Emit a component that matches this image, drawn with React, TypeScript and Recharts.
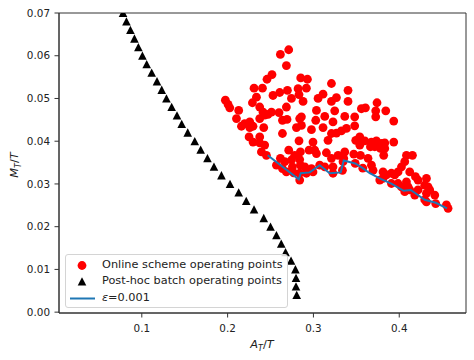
import {
  ScatterChart,
  Scatter,
  XAxis,
  YAxis,
  ReferenceArea,
  Legend,
} from "recharts";

// online scheme operating points (red dots)
const onlineX = [
  0.2712, 0.2615, 0.2685, 0.2517, 0.2459, 0.2852, 0.293, 0.321, 0.2308, 0.2406,
  0.2529, 0.2607, 0.2697, 0.2821, 0.2918, 0.1974, 0.2025, 0.2129, 0.2289, 0.2336,
  0.2744, 0.2832, 0.2879, 0.3054, 0.3112, 0.321, 0.3268, 0.2374, 0.2413, 0.2471,
  0.2511, 0.2685, 0.3035, 0.3248, 0.2103, 0.2199, 0.2258, 0.2374, 0.2432, 0.2599,
  0.2639, 0.2692, 0.284, 0.286, 0.3027, 0.3132, 0.3228, 0.2161, 0.2258, 0.2296,
  0.2421, 0.2639, 0.2802, 0.286, 0.2977, 0.3112, 0.225, 0.2374, 0.2832, 0.2995,
  0.317, 0.2005, 0.3403, 0.3403, 0.3741, 0.3559, 0.3606, 0.3726, 0.3843, 0.3365,
  0.3481, 0.3726, 0.3936, 0.3481, 0.3385, 0.3326, 0.3268, 0.321, 0.3493, 0.354,
  0.3598, 0.3676, 0.3734, 0.3831, 0.3936, 0.2296, 0.2374, 0.2432, 0.2394, 0.2452,
  0.3015, 0.2712, 0.2782, 0.2848, 0.2949, 0.3035, 0.3151, 0.321, 0.3287, 0.2615,
  0.2666, 0.2744, 0.284, 0.2569, 0.2639, 0.2755, 0.2848, 0.2685, 0.277, 0.2899,
  0.2977, 0.3073, 0.284, 0.284, 0.2918, 0.2995, 0.3132, 0.3228, 0.354, 0.3715,
  0.3793, 0.3831, 0.3365, 0.347, 0.3228, 0.3338, 0.3345, 0.3636, 0.3676, 0.3695,
  0.4084, 0.4154, 0.4064, 0.4026, 0.3986, 0.3947, 0.3909, 0.4122, 0.3811, 0.3851,
  0.3773, 0.3811, 0.3909, 0.3986, 0.4026, 0.4084, 0.4103, 0.4064, 0.4122, 0.4219,
  0.4219, 0.4317, 0.4297, 0.4336, 0.4355, 0.4317, 0.4181, 0.4414, 0.4317, 0.4425,
  0.455, 0.4569, 0.3548, 0.3819, 0.4189, 0.3353, 0.3664, 0.3781, 0.3487, 0.3575,
  0.4297,
];
const onlineY = [
  0.0614, 0.0603, 0.0577, 0.0556, 0.0545, 0.0548, 0.0545, 0.0535, 0.0524, 0.0524,
  0.0507, 0.0514, 0.0519, 0.0523, 0.0524, 0.0496, 0.0478, 0.0472, 0.049, 0.0503,
  0.05, 0.0509, 0.0493, 0.05, 0.051, 0.0493, 0.0502, 0.048, 0.0468, 0.0463,
  0.0468, 0.048, 0.0472, 0.0471, 0.0453, 0.0441, 0.0445, 0.0453, 0.0461, 0.0467,
  0.0449, 0.0451, 0.0453, 0.0457, 0.0449, 0.0458, 0.0445, 0.0435, 0.0432, 0.0435,
  0.0432, 0.0418, 0.0432, 0.0437, 0.0427, 0.0432, 0.041, 0.041, 0.0401, 0.0398,
  0.0402, 0.0486, 0.0519, 0.0493, 0.049, 0.0476, 0.0478, 0.0471, 0.0471, 0.0458,
  0.0457, 0.0457, 0.0447, 0.0436, 0.043, 0.0424, 0.0419, 0.0418, 0.0402, 0.041,
  0.0401, 0.0398, 0.0401, 0.0396, 0.0398, 0.0398, 0.0396, 0.0391, 0.0375, 0.0367,
  0.0379, 0.0379, 0.0367, 0.0375, 0.0379, 0.0371, 0.0373, 0.036, 0.0367, 0.036,
  0.0352, 0.0356, 0.0357, 0.0344, 0.0336, 0.034, 0.0344, 0.0328, 0.0326, 0.034,
  0.0336, 0.0344, 0.0325, 0.0309, 0.0325, 0.0328, 0.034, 0.0325, 0.0391, 0.0387,
  0.0395, 0.0383, 0.0375, 0.037, 0.034, 0.0332, 0.0352, 0.036, 0.0344, 0.0332,
  0.0367, 0.0367, 0.0352, 0.034, 0.0328, 0.0321, 0.0325, 0.0328, 0.0328, 0.0321,
  0.0309, 0.0313, 0.0301, 0.0301, 0.0293, 0.0305, 0.0293, 0.0282, 0.0286, 0.0286,
  0.0309, 0.0313, 0.0297, 0.0293, 0.0286, 0.0278, 0.0274, 0.0274, 0.0258, 0.0254,
  0.0251, 0.0243, 0.0367, 0.0367, 0.0317, 0.036, 0.0387, 0.0383, 0.0348, 0.0337,
  0.0263,
];

// post-hoc batch operating points (black triangles)
const batchX = [
  0.0781, 0.0821, 0.0867, 0.0914, 0.096, 0.1007, 0.1057, 0.1115, 0.1177, 0.1232,
  0.1287, 0.1348, 0.141, 0.1465, 0.1535, 0.1617, 0.1686, 0.1765, 0.1841, 0.1928,
  0.2028, 0.2129, 0.2217, 0.2308, 0.2421, 0.25, 0.2569, 0.2625, 0.2675, 0.2739,
  0.279, 0.2797, 0.2797, 0.2805,
];
const batchY = [
  0.07, 0.068, 0.066, 0.064, 0.062, 0.06, 0.058, 0.056, 0.054, 0.052,
  0.05, 0.048, 0.046, 0.044, 0.042, 0.04, 0.038, 0.036, 0.034, 0.032,
  0.03, 0.028, 0.026, 0.024, 0.022, 0.02, 0.018, 0.016, 0.014, 0.012,
  0.01, 0.008, 0.006, 0.004,
];

// eps = 0.001 frontier
const frontX = [
  0.2467, 0.2829, 0.2852, 0.2957, 0.3073, 0.319, 0.3318, 0.3353, 0.3487, 0.3575,
  0.3656, 0.3784, 0.3913, 0.4052, 0.4134, 0.4297, 0.4425, 0.4557,
];
const frontY = [
  0.0367, 0.0311, 0.0325, 0.0327, 0.0344, 0.0325, 0.0327, 0.0355, 0.0348, 0.0337,
  0.0325, 0.0312, 0.03, 0.0284, 0.0286, 0.0263, 0.0256, 0.0243,
];

const xTicks = [0.1, 0.2, 0.3, 0.4];
const yTicks = [0, 0.01, 0.02, 0.03, 0.04, 0.05, 0.06, 0.07];

const X_DOMAIN = [0.0035, 0.4778];
const Y_DOMAIN = [-0.0002, 0.07];

const zip = (xs: number[], ys: number[]) => xs.map((x, i) => ({ x, y: ys[i] }));

const FONT = "DejaVu Sans";
const AXIS = "#333";
const RED = "#ff0000";
const BLUE = "#1f77b4";

const Dot = ({ cx, cy }: any) => <circle cx={cx} cy={cy} r={4.4} fill={RED} />;

const Tri = ({ cx, cy }: any) => (
  <polygon
    points={`${cx},${cy - 4.3} ${cx - 4.3},${cy + 4} ${cx + 4.3},${cy + 4}`}
    fill="#000"
  />
);

const NoMark = () => <g />;

const XLabel = () => (
  <text x={262} y={348} textAnchor="middle" fontFamily={FONT} fontSize={11.3} fill="#222">
    <tspan fontStyle="italic">A</tspan>
    <tspan fontStyle="italic" fontSize={8} dy={2.5}>T</tspan>
    <tspan dy={-2.5}>/</tspan>
    <tspan fontStyle="italic">T</tspan>
  </text>
);

const YLabel = () => (
  <text
    x={0}
    y={0}
    transform="translate(18,165) rotate(-90)"
    textAnchor="middle"
    fontFamily={FONT}
    fontSize={11.3}
    fill="#222"
  >
    <tspan fontStyle="italic">M</tspan>
    <tspan fontStyle="italic" fontSize={8} dy={2.5}>T</tspan>
    <tspan dy={-2.5}>/</tspan>
    <tspan fontStyle="italic">T</tspan>
  </text>
);

const row = { height: 16.5, lineHeight: "16.5px", position: "relative" as const, paddingLeft: 36, whiteSpace: "nowrap" as const };

const LegendBox = () => (
  <div
    style={{
      width: 223,
      height: 54,
      boxSizing: "border-box",
      border: "1px solid #d4d4d4",
      borderRadius: 3,
      background: "rgba(255,255,255,0.85)",
      paddingTop: 1.5,
      fontFamily: FONT,
      fontSize: 11.3,
      color: "#222",
    }}
  >
    <div style={row}>
      <svg width={30} height={16} style={{ position: "absolute", left: 1, top: 0 }}>
        <circle cx={15} cy={8.5} r={4.4} fill={RED} />
      </svg>
      Online scheme operating points
    </div>
    <div style={row}>
      <svg width={30} height={16} style={{ position: "absolute", left: 1, top: 0 }}>
        <polygon points="15,4.2 10.7,12.5 19.3,12.5" fill="#000" />
      </svg>
      Post-hoc batch operating points
    </div>
    <div style={row}>
      <svg width={30} height={16} style={{ position: "absolute", left: 1, top: 0 }}>
        <line x1={3} x2={28} y1={8.5} y2={8.5} stroke={BLUE} strokeWidth={2} />
      </svg>
      <i>ε</i>=0.001
    </div>
  </div>
);

export default function App() {
  return (
    <div style={{ position: "absolute", left: 0, top: 0, width: 474, height: 360, background: "#fff" }}>
      <ScatterChart width={474} height={360} margin={{ top: 13, right: 8, left: 9, bottom: 17 }}>
        <XAxis
          type="number"
          dataKey="x"
          domain={X_DOMAIN}
          ticks={xTicks}
          allowDataOverflow
          height={30}
          tickSize={4.5}
          tickMargin={7.5}
          stroke={AXIS}
          tick={{ fontSize: 10.4, fill: "#222", fontFamily: FONT }}
          label={<XLabel />}
        />
        <YAxis
          type="number"
          dataKey="y"
          domain={Y_DOMAIN}
          ticks={yTicks}
          allowDataOverflow
          width={50}
          tickSize={4.5}
          tickMargin={4.5}
          stroke={AXIS}
          tickFormatter={(v: number) => v.toFixed(2)}
          tick={{ fontSize: 10.4, fill: "#222", fontFamily: FONT }}
          label={<YLabel />}
        />
        <ReferenceArea
          x1={X_DOMAIN[0]}
          x2={X_DOMAIN[1]}
          y1={Y_DOMAIN[0]}
          y2={Y_DOMAIN[1]}
          fill="none"
          fillOpacity={0}
          stroke={AXIS}
          strokeWidth={1}
        />
        <Scatter
          name="Online scheme operating points"
          data={zip(onlineX, onlineY)}
          shape={Dot}
          isAnimationActive={false}
        />
        <Scatter
          name="Post-hoc batch operating points"
          data={zip(batchX, batchY)}
          shape={Tri}
          isAnimationActive={false}
        />
        <Scatter
          name="eps"
          data={zip(frontX, frontY)}
          shape={NoMark}
          line={{ stroke: BLUE, strokeWidth: 2 }}
          isAnimationActive={false}
        />
        <Legend
          layout="vertical"
          align="center"
          verticalAlign="middle"
          content={() => <LegendBox />}
          wrapperStyle={{ position: "absolute", left: 65, top: 254, width: 223, height: 54 }}
        />
      </ScatterChart>
    </div>
  );
}
